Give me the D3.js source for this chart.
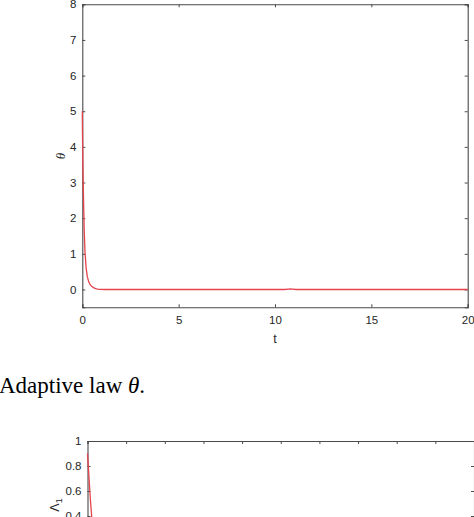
<!DOCTYPE html>
<html>
<head>
<meta charset="utf-8">
<script src="https://cdn.jsdelivr.net/npm/d3@7"></script>
<style>
  html, body { margin: 0; padding: 0; background: #fff; overflow: hidden; }
  svg { display: block; }
</style>
</head>
<body>
<div id="chart"></div>
<script>
// theta(t)
var thetaT = [0, 0.01, 0.03, 0.06, 0.1, 0.14, 0.2, 0.26, 0.33, 0.4, 0.5, 0.6, 0.7, 0.8, 0.9, 1.2, 2, 5, 10.5, 10.7, 10.8, 10.9, 11.1, 15, 20];
var thetaV = [5, 4.4, 3.5, 2.6, 1.65, 1.05, 0.6, 0.36, 0.22, 0.14, 0.08, 0.045, 0.025, 0.012, 0.005, 0, 0, 0, 0, 0.01, 0.015, 0.01, 0, 0, 0];
var thetaXTicks = [0, 5, 10, 15, 20];
var thetaYTicks = [0, 1, 2, 3, 4, 5, 6, 7, 8];

// Lambda_1(t), bottom panel (only its top part is visible)
var lamT = [0, 0.05, 0.1, 0.15, 0.22, 0.3, 0.4, 0.6, 0.8, 1, 2, 20];
var lamV = [0.9, 0.78, 0.65, 0.53, 0.39, 0.28, 0.19, 0.1, 0.05, 0.02, 0, 0];
var lamXTicks = [0, 2, 4, 6, 8, 10, 12, 14, 16, 18, 20];
var lamYTicks = [0, 0.2, 0.4, 0.6, 0.8, 1];

var W = 474, H = 517;
var axisColor = "#4a4a4a", lineColor = "#e5434d";
var tickLen = 3;

var svg = d3.select("#chart")
  .append("svg")
    .attr("width", W)
    .attr("height", H);

// draws a matlab style boxed panel
function drawPanel(opt) {
  var x = d3.scaleLinear().domain(opt.xDomain).range([opt.left, opt.right]);
  var y = d3.scaleLinear().domain(opt.yDomain).range([opt.bottom, opt.top]);
  var g = svg.append("g");

  // bottom / left axes with inward ticks
  var xb = g.append("g")
    .attr("transform", "translate(0," + opt.bottom + ")")
    .call(d3.axisBottom(x).tickValues(opt.xTicks).tickSize(-tickLen).tickPadding(9).tickFormat(opt.xTickFormat || d3.format("d")));
  var yl = g.append("g")
    .attr("transform", "translate(" + opt.left + ",0)")
    .call(d3.axisLeft(y).tickValues(opt.yTicks).tickSize(-tickLen).tickPadding(6).tickFormat(opt.yTickFormat || d3.format("d")));
  // top / right mirrored ticks, no labels
  var xt = g.append("g")
    .attr("transform", "translate(0," + opt.top + ")")
    .call(d3.axisTop(x).tickValues(opt.xTicks).tickSize(-tickLen).tickFormat(""));
  var yr = g.append("g")
    .attr("transform", "translate(" + opt.right + ",0)")
    .call(d3.axisRight(y).tickValues(opt.yTicks).tickSize(-tickLen).tickFormat(""));

  [xb, yl, xt, yr].forEach(function(a) {
    a.select(".domain").attr("stroke", axisColor).attr("stroke-width", 1.1);
    a.selectAll(".tick line").attr("stroke", axisColor).attr("stroke-width", 1);
    a.selectAll(".tick text")
      .attr("fill", "#262626")
      .style("font-family", "'Liberation Sans', Arial, sans-serif")
      .style("font-size", "11.5px");
  });

  // the curve
  var pts = opt.t.map(function(d, i) { return [d, opt.v[i]]; });
  g.append("path")
    .datum(pts)
    .attr("fill", "none")
    .attr("stroke", lineColor)
    .attr("stroke-width", 1.3)
    .attr("d", d3.line()
      .x(function(d) { return x(d[0]); })
      .y(function(d) { return y(d[1]); }));

  return { x: x, y: y, g: g };
}

// top panel: theta
var p1 = drawPanel({
  left: 82.3, right: 467.7, top: 4.3, bottom: 307.3,
  xDomain: [0, 20], yDomain: [-0.5, 8],
  xTicks: thetaXTicks, yTicks: thetaYTicks,
  t: thetaT, v: thetaV
});

svg.append("text")
  .attr("x", 275)
  .attr("y", 343)
  .attr("text-anchor", "middle")
  .attr("fill", "#262626")
  .style("font-family", "'Liberation Sans', Arial, sans-serif")
  .style("font-size", "12.5px")
  .text("t");

svg.append("text")
  .attr("transform", "translate(65,156) rotate(-90)")
  .attr("text-anchor", "middle")
  .attr("fill", "#262626")
  .style("font-family", "'Liberation Serif', 'Times New Roman', serif")
  .style("font-style", "italic")
  .style("font-size", "13px")
  .text("θ");

// caption
var cap = svg.append("text")
  .attr("x", -1)
  .attr("y", 393)
  .attr("fill", "#000")
  .style("font-family", "'Liberation Serif', 'Times New Roman', serif")
  .style("font-size", "23px");
cap.append("tspan").text("Adaptive law ");
cap.append("tspan").style("font-style", "italic").text("θ");
cap.append("tspan").text(".");

// bottom panel: Lambda_1
var p2 = drawPanel({
  left: 87.5, right: 474, top: 441, bottom: 566,
  xDomain: [0, 20], yDomain: [0, 1],
  xTicks: lamXTicks, yTicks: lamYTicks,
  yTickFormat: function(d) { return d === 1 ? "1" : (d === 0 ? "0" : d3.format(".1f")(d)); },
  t: lamT, v: lamV
});

var lab = svg.append("text")
  .attr("transform", "translate(59,505) rotate(-90)")
  .attr("text-anchor", "middle")
  .attr("fill", "#262626")
  .style("font-family", "'Liberation Sans', Arial, sans-serif")
  .style("font-size", "12.5px");
lab.append("tspan").text("Λ");
lab.append("tspan").attr("dy", 3).style("font-size", "9px").text("1");
</script>
</body>
</html>
